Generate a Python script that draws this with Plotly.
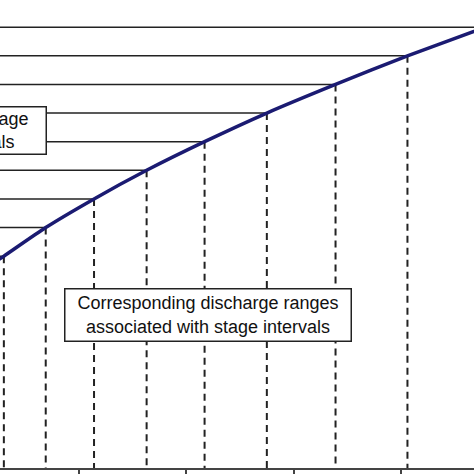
import plotly.graph_objects as go

# Equal stage intervals (stage units) and the discharges where they meet the rating curve
stage_levels = [7.4, 8.4, 9.4, 10.4, 11.4, 12.4, 13.4, 14.4, 15.4]
discharge_at_levels = [30, 69, 114, 163, 217, 275, 339, 406, 479]

# Rating curve (discharge, stage)
curve_discharge = [10, 30, 69, 114, 163, 217, 275, 339, 406, 479, 500]
curve_stage = [6.9, 7.4, 8.4, 9.4, 10.4, 11.4, 12.4, 13.4, 14.4, 15.4, 15.7]

x_tick_values = [100, 200, 300, 400]

fig = go.Figure()

# horizontal stage lines from the stage axis to the curve
hx, hy = [], []
for q, s in zip(discharge_at_levels, stage_levels):
    hx += [0, q, None]
    hy += [s, s, None]
fig.add_trace(go.Scatter(x=hx, y=hy, mode="lines",
                         line=dict(color="#222222", width=1.5),
                         hoverinfo="skip", showlegend=False))

# vertical dashed discharge lines from the curve to the discharge axis
vx, vy = [], []
for q, s in zip(discharge_at_levels[:-1], stage_levels[:-1]):
    vx += [q, q, None]
    vy += [s, 0, None]
fig.add_trace(go.Scatter(x=vx, y=vy, mode="lines",
                         line=dict(color="#222222", width=2, dash="7px,5px"),
                         hoverinfo="skip", showlegend=False))

# rating curve
fig.add_trace(go.Scatter(x=curve_discharge, y=curve_stage, mode="lines",
                         line=dict(color="#1b1b72", width=3.5, shape="spline", smoothing=0.6),
                         showlegend=False))

box_font = dict(family="Liberation Sans, Arial, sans-serif", size=18, color="#111111")

fig.add_annotation(xref="paper", yref="paper", x=0.4388, y=0.3259,
                   xanchor="center", yanchor="middle",
                   text="Corresponding discharge ranges<br>associated with stage intervals",
                   showarrow=False, font=box_font, align="center",
                   bgcolor="white", bordercolor="#222222", borderwidth=1.5,
                   borderpad=2, width=281, height=47)

fig.add_annotation(xref="paper", yref="paper", x=-0.0411, y=0.7201,
                   xanchor="center", yanchor="middle",
                   text="Equal stage<br>intervals",
                   showarrow=False, font=box_font, align="center",
                   bgcolor="white", bordercolor="#222222", borderwidth=1.5,
                   borderpad=2, width=125, height=42)

fig.update_layout(
    width=474, height=474,
    margin=dict(l=0, r=0, t=0, b=6),
    paper_bgcolor="white", plot_bgcolor="white",
    xaxis=dict(range=[26.4, 468.0], tickvals=x_tick_values, ticks="outside",
               ticklen=6, tickwidth=1.5, tickcolor="#444444",
               showticklabels=False, showgrid=False, zeroline=False,
               showline=True, linecolor="#444444", linewidth=1.5),
    yaxis=dict(range=[0, 16.35], showticklabels=False, showgrid=False,
               zeroline=False, showline=False, ticks=""),
)

fig.write_html("out.html", config={"displayModeBar": False},
               post_script="document.body.style.margin='0';document.body.style.padding='0';")
